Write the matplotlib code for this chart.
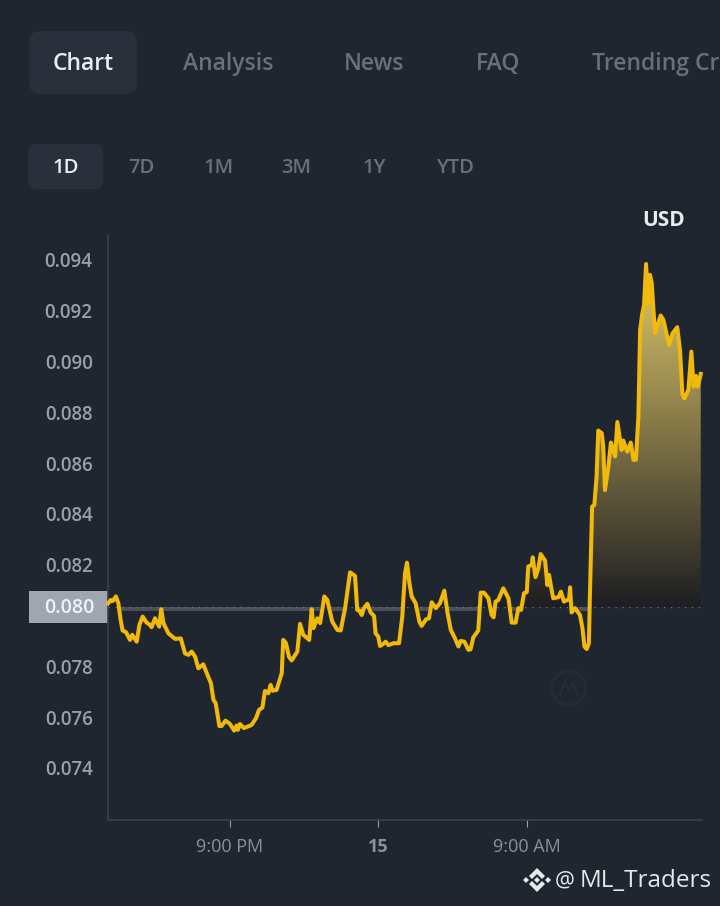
import numpy as np
import matplotlib
matplotlib.use("Agg")
import matplotlib.pyplot as plt
from matplotlib.patches import FancyBboxPatch, Rectangle, Polygon, Circle

# hours since the start of the 1D window
hours = [0.01, 0.11, 0.19, 0.32, 0.42, 0.51, 0.59, 0.73, 0.89, 0.98, 1.16, 1.27, 1.40, 1.56, 1.70, 1.76,
         1.90, 2.07, 2.15, 2.24, 2.44, 2.71, 2.94, 3.11, 3.25, 3.38, 3.52, 3.65, 3.85, 3.99, 4.16, 4.26,
         4.35, 4.50, 4.59, 4.75, 4.93, 5.10, 5.20, 5.25, 5.33, 5.49, 5.80, 5.98, 6.10, 6.24, 6.34, 6.48,
         6.57, 6.65, 6.81, 7.02, 7.08, 7.19, 7.31, 7.42, 7.65, 7.76, 7.89, 8.13, 8.23, 8.30, 8.46, 8.57,
         8.74, 8.86, 9.06, 9.27, 9.40, 9.58, 9.78, 9.98, 10.07, 10.16, 10.25, 10.34, 10.48, 10.61, 10.75,
         10.81, 10.92, 10.99, 11.12, 11.22, 11.33, 11.53, 11.76, 11.89, 12.00, 12.08, 12.18, 12.27, 12.43,
         12.58, 12.67, 12.85, 12.97, 13.08, 13.25, 13.41, 13.59, 13.71, 13.85, 14.02, 14.16, 14.25, 14.40,
         14.56, 14.65, 14.76, 14.96, 15.06, 15.19, 15.37, 15.50, 15.58, 15.66, 15.77, 15.97, 16.18, 16.31,
         16.47, 16.58, 16.69, 16.81, 16.92, 16.98, 17.12, 17.16, 17.27, 17.39, 17.48, 17.66, 17.75, 17.82,
         17.90, 17.99, 18.20, 18.30, 18.42, 18.63, 18.67, 18.73, 18.87, 19.07, 19.17, 19.25, 19.34, 19.43,
         19.47, 19.56, 19.65, 19.74, 19.81, 19.95, 20.01, 20.08, 20.22, 20.32, 20.49, 20.58, 20.75, 20.82,
         20.98, 21.12, 21.23, 21.33, 21.43, 21.50, 21.58, 21.66, 21.74, 21.83, 21.90, 21.97, 22.10, 22.33,
         22.44, 22.67, 22.81, 23.00, 23.11, 23.21, 23.29, 23.45, 23.57, 23.66, 23.76, 23.83, 23.95]
price = [0.08048, 0.08061, 0.08057, 0.08075, 0.08048, 0.07983, 0.07941, 0.07934, 0.07904, 0.07924, 0.07897,
         0.07963, 0.07996, 0.07972, 0.07963, 0.07954, 0.07989, 0.07956, 0.08025, 0.07970, 0.07930, 0.07908,
         0.07910, 0.07851, 0.07845, 0.07858, 0.07838, 0.07792, 0.07808, 0.07773, 0.07733, 0.07668, 0.07655,
         0.07565, 0.07565, 0.07586, 0.07573, 0.07547, 0.07567, 0.07550, 0.07573, 0.07557, 0.07569, 0.07596,
         0.07628, 0.07638, 0.07703, 0.07694, 0.07727, 0.07704, 0.07707, 0.07773, 0.07904, 0.07891, 0.07838,
         0.07823, 0.07858, 0.07967, 0.07924, 0.07904, 0.08025, 0.07950, 0.07989, 0.07970, 0.08075, 0.08061,
         0.07976, 0.07943, 0.07941, 0.08029, 0.08170, 0.08156, 0.08022, 0.08019, 0.08002, 0.08029, 0.08046,
         0.08012, 0.07998, 0.07930, 0.07917, 0.07880, 0.07888, 0.07897, 0.07883, 0.07891, 0.07891, 0.07996,
         0.08166, 0.08208, 0.08127, 0.08075, 0.08048, 0.07976, 0.07959, 0.07985, 0.07989, 0.08052, 0.08029,
         0.08048, 0.08098, 0.08015, 0.07943, 0.07910, 0.07878, 0.07900, 0.07897, 0.07865, 0.07867, 0.07914,
         0.07941, 0.08090, 0.08090, 0.08068, 0.08002, 0.07993, 0.08055, 0.08061, 0.08107, 0.08068, 0.07972,
         0.07972, 0.08029, 0.08022, 0.08088, 0.08092, 0.08193, 0.08199, 0.08229, 0.08151, 0.08186, 0.08242,
         0.08216, 0.08120, 0.08160, 0.08114, 0.08068, 0.08072, 0.08094, 0.08055, 0.08064, 0.08111, 0.08012,
         0.08029, 0.08002, 0.07950, 0.07878, 0.07868, 0.07891, 0.08075, 0.08429, 0.08435, 0.08547, 0.08728,
         0.08718, 0.08665, 0.08494, 0.08586, 0.08681, 0.08626, 0.08762, 0.08652, 0.08689, 0.08645, 0.08681,
         0.08613, 0.08613, 0.08783, 0.09124, 0.09184, 0.09223, 0.09384, 0.09223, 0.09341, 0.09308, 0.09111,
         0.09181, 0.09164, 0.09065, 0.09111, 0.09135, 0.09046, 0.08869, 0.08855, 0.08888, 0.09039, 0.08901,
         0.08943, 0.08901, 0.08951]

baseline = 0.08034
ytick_vals = [0.074, 0.076, 0.078, 0.082, 0.084, 0.086, 0.088, 0.090, 0.092, 0.094]
xtick_vals = [4.93, 10.91, 16.92]
xtick_labels = ["9:00 PM", "15", "9:00 AM"]
tabs = ["Chart", "Analysis", "News", "FAQ", "Trending Cr"]
ranges = ["1D", "7D", "1M", "3M", "1Y", "YTD"]

BG = "#1f2630"
FONT = "Open Sans"
W, H = 720, 906

plt.rcParams["font.family"] = [FONT, "DejaVu Sans"]
fig = plt.figure(figsize=(W / 100, H / 100), dpi=100, facecolor=BG)

# page furniture is laid out in pixels on a full-figure axes
page = fig.add_axes([0, 0, 1, 1], zorder=0)
page.set_xlim(0, W)
page.set_ylim(H, 0)
page.axis("off")

page.add_patch(FancyBboxPatch((29 + 12, 31 + 12), 108 - 24, 63 - 24, boxstyle="round,pad=12,rounding_size=12",
                              fc="#2a303b", ec="none"))
page.add_patch(FancyBboxPatch((28 + 8, 144 + 8), 75 - 16, 45 - 16, boxstyle="round,pad=8,rounding_size=8",
                              fc="#2a303b", ec="none"))

tab_x = [83, 228, 374, 498, 592]
for i, t in enumerate(tabs):
    page.text(tab_x[i], 64, t, color="#eaecef" if i == 0 else "#6a707b", fontsize=16.5, fontweight="semibold",
              ha="left" if i == 4 else "center", va="center")
range_x = [66, 141, 219, 296, 374, 455]
for i, t in enumerate(ranges):
    page.text(range_x[i], 168, t, color="#eaecef" if i == 0 else "#6a707b", fontsize=14.5, fontweight="semibold",
              ha="center", va="center")
page.text(664, 220, "USD", color="#eaecef", fontsize=15, fontweight="bold", ha="center", va="center")

# price label box on the axis
page.add_patch(Rectangle((29, 591), 79, 32, fc="#a0a6b1", ec="none"))
page.text(69, 608, "0.080", color="#f2f3f5", fontsize=14, fontweight="semibold", ha="center", va="center")

# faint watermark
page.add_patch(Circle((569, 688), 17, fc="none", ec="#252c37", lw=2))
page.plot([560, 565, 569, 573, 578], [695, 682, 690, 682, 695], color="#252c37", lw=2)

# main chart
ax = fig.add_axes([108 / W, 1 - 820 / H, (702 - 108) / W, (820 - 235) / H], zorder=1)
ax.patch.set_alpha(0)
ax.set_xlim(0, 24)
ax.set_ylim(0.07195, 0.09498)

for s in ["top", "right"]:
    ax.spines[s].set_visible(False)
for s in ["left", "bottom"]:
    ax.spines[s].set_color("#3b414c")
    ax.spines[s].set_linewidth(1.2)

ax.set_yticks(ytick_vals)
ax.set_yticklabels([f"{v:.3f}" for v in ytick_vals], fontweight="semibold")
ax.tick_params(axis="y", length=0, pad=11, labelcolor="#9aa0aa", labelsize=13.5)
ax.set_xticks(xtick_vals)
ax.set_xticklabels(xtick_labels)
ax.tick_params(axis="x", length=5, width=0.8, color="#9aa0aa", pad=8, labelcolor="#8b919c", labelsize=13)
ax.get_xticklabels()[1].set_fontweight("bold")

x = np.array(hours)
y = np.array(price)

# grey band where price sits under the open, dotted where above
ax.fill_between(x, baseline - 0.00016, baseline - 0.00002, where=y < baseline, color="#4a4f59", lw=0, zorder=1)
ax.plot([x[0], x[-1]], [baseline, baseline], color="#6b717c", lw=1, ls=(0, (1, 4)), zorder=1)

# gradient area above the open
grad = np.zeros((256, 1, 4))
top_c = np.array([205, 184, 98]) / 255
bot_c = np.array([30, 30, 34]) / 255
for i in range(256):
    t = i / 255
    grad[i, 0, :3] = bot_c * t + top_c * (1 - t)
    grad[i, 0, 3] = 1
img = ax.imshow(grad, extent=[0, 24, baseline, 0.0925], aspect="auto", origin="upper", zorder=2,
                interpolation="bilinear")
ax.set_xlim(0, 24)
ax.set_ylim(0.07195, 0.09498)
area = ax.fill_between(x, baseline, np.maximum(y, baseline), color="none", lw=0)
img.set_clip_path(area.get_paths()[0], transform=ax.transData)

ax.plot(x, y, color="#f0b90b", lw=2.9, solid_joinstyle="round", zorder=3, clip_on=False)

# binance mark + handle
mark = "#e6e8ea"
cx, cy = 537, 880
for dx, dy, r in [(0, 0, 3), (-11, 0, 3), (11, 0, 3)]:
    page.add_patch(Polygon([(cx + dx - r, cy + dy), (cx + dx, cy + dy - r), (cx + dx + r, cy + dy), (cx + dx, cy + dy + r)],
                           fc=mark, ec="none"))
page.add_patch(Polygon([(cx - 8, cy - 4), (cx, cy - 12), (cx + 8, cy - 4), (cx + 5, cy - 1), (cx, cy - 6), (cx - 5, cy - 1)],
                       fc=mark, ec="none"))
page.add_patch(Polygon([(cx - 8, cy + 4), (cx, cy + 12), (cx + 8, cy + 4), (cx + 5, cy + 1), (cx, cy + 6), (cx - 5, cy + 1)],
                       fc=mark, ec="none"))
page.text(555, 881, "@", color=mark, fontsize=16, ha="left", va="center")
page.text(580, 881, "ML_Traders", color=mark, fontsize=17.5, ha="left", va="center")

fig.savefig("out.png", dpi=100, facecolor=BG)
